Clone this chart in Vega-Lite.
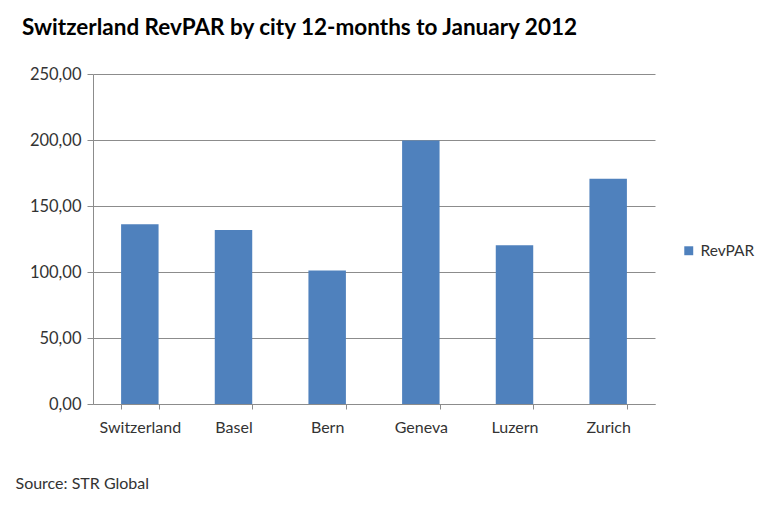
{
  "$schema": "https://vega.github.io/schema/vega-lite/v6.json",
  "width": 562,
  "height": 330,
  "autosize": {"type": "none"},
  "padding": {"left": 93, "top": 74, "right": 125, "bottom": 116},
  "background": "white",
  "title": {
    "text": "Switzerland RevPAR by city 12-months to January 2012",
    "anchor": "start",
    "frame": "group",
    "dx": -71,
    "offset": 27,
    "font": "Lato",
    "fontSize": 22.5,
    "fontWeight": "bold",
    "color": "#000000"
  },
  "config": {
    "view": {"stroke": null},
    "font": "Lato"
  },
  "data": {
    "values": [
      {"city": "Switzerland", "RevPAR": 136.1},
      {"city": "Basel", "RevPAR": 131.8},
      {"city": "Bern", "RevPAR": 101.2},
      {"city": "Geneva", "RevPAR": 199.6},
      {"city": "Luzern", "RevPAR": 120.3},
      {"city": "Zurich", "RevPAR": 170.6}
    ]
  },
  "mark": {"type": "bar"},
  "encoding": {
    "x": {
      "field": "city",
      "type": "nominal",
      "sort": null,
      "scale": {"paddingInner": 0.6, "paddingOuter": 0.3},
      "axis": {
        "title": "Source: STR Global",
        "titleX": -78,
        "titleY": 79,
        "titleAlign": "left",
        "titleBaseline": "middle",
        "titleFontSize": 16,
        "titleFontWeight": "normal",
        "titleColor": "#333333",
        "labelAngle": 0,
        "labelFontSize": 16,
        "labelColor": "#333333",
        "labelPadding": 10,
        "tickBand": "extent",
        "tickSize": 5,
        "tickColor": "#8c8c8c",
        "domainColor": "#8c8c8c",
        "grid": false
      }
    },
    "y": {
      "field": "RevPAR",
      "type": "quantitative",
      "scale": {"domain": [0, 250], "nice": false},
      "axis": {
        "title": null,
        "values": [0, 50, 100, 150, 200, 250],
        "labelExpr": "replace(format(datum.value, '.2f'), '.', ',')",
        "labelFontSize": 16.5,
        "labelColor": "#333333",
        "labelPadding": 6,
        "tickSize": 6,
        "tickColor": "#8c8c8c",
        "domainColor": "#8c8c8c",
        "gridColor": "#8c8c8c",
        "gridWidth": 1
      }
    },
    "color": {
      "datum": "RevPAR",
      "scale": {"range": ["#4F81BD"]},
      "legend": {
        "title": null,
        "orient": "none",
        "legendX": 588,
        "legendY": 169,
        "symbolType": "square",
        "symbolSize": 80,
        "labelFontSize": 15.5,
        "labelColor": "#333333",
        "labelOffset": 4
      }
    }
  }
}
